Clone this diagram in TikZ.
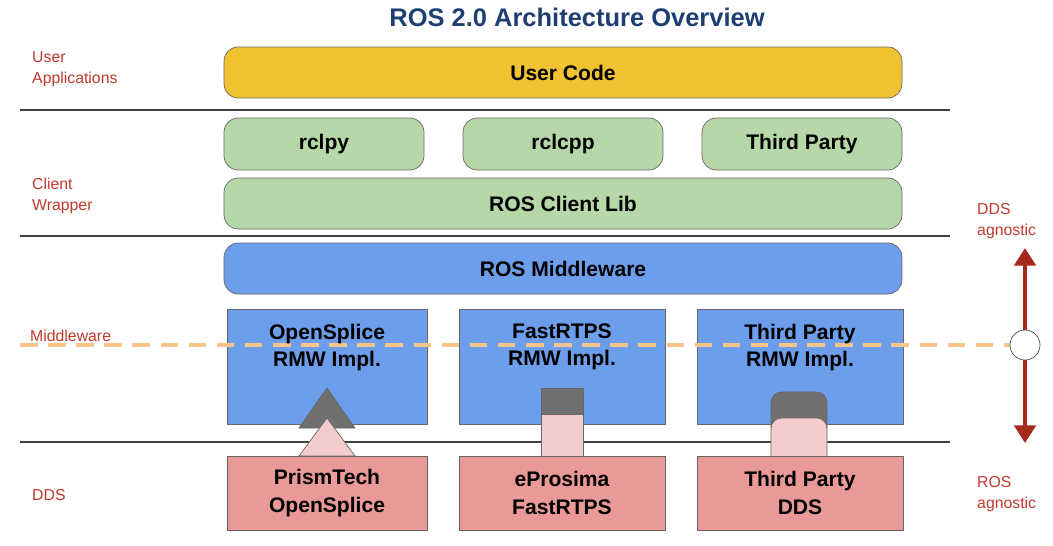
\documentclass[tikz,border=0pt]{standalone}
\usepackage{fontspec}
\setmainfont{Liberation Sans}
\usetikzlibrary{arrows.meta,positioning,calc}
\definecolor{titleblue}{HTML}{1F3F73}
\definecolor{labred}{HTML}{C0392B}
\definecolor{usery}{HTML}{F1C232}
\definecolor{clientg}{HTML}{B6D7A8}
\definecolor{mwblue}{HTML}{6D9EEB}
\definecolor{ddsred}{HTML}{EA9999}
\definecolor{plugpink}{HTML}{F4CCCC}
\definecolor{pluggray}{HTML}{707070}
\definecolor{dashor}{HTML}{F9C48A}
\definecolor{arrred}{HTML}{A52A1E}
\tikzset{
  layer/.style={draw=black!60, rounded corners=8pt, font=\bfseries\fontsize{12}{15.5}\selectfont, inner sep=0pt},
  block/.style={draw=black!60, font=\bfseries\fontsize{12}{15.5}\selectfont, align=center, inner sep=0pt},
  side/.style={text=labred, font=\fontsize{9}{12}\selectfont, align=left, anchor=west},
  sep/.style={line width=1.6pt, black!75}
}
\begin{document}
\begin{tikzpicture}[x=0.02cm, y=-0.02cm]
  \useasboundingbox (0,0) rectangle (1053,545);
  % Title
  \node[text=titleblue, font=\bfseries\fontsize{14.5}{16}\selectfont] (title) at (577,17) {ROS 2.0 Architecture Overview};

  % Side labels
  \node[side] (lapp) at (26,69) {User\\Applications};
  \node[side] (lcw) at (26,196) {Client\\Wrapper};
  \node[side] (lmw) at (24,336) {Middleware};
  \node[side] (ldds) at (26,495) {DDS};
  \node[side] (lda) at (971,221) {DDS\\agnostic};
  \node[side] (lra) at (971,494) {ROS\\agnostic};

  % Separators
  \draw[sep] (20,110) -- (950,110);
  \draw[sep] (20,236) -- (950,236);
  \draw[sep] (20,442) -- (950,442);

  % Layers
  \node[layer, fill=usery, minimum width=13.56cm, minimum height=1.02cm] (user) at (563,72.5) {User Code};
  \node[layer, fill=clientg, minimum width=4cm, minimum height=1.04cm] (rclpy) at (324,144) {rclpy};
  \node[layer, fill=clientg, minimum width=4cm, minimum height=1.04cm] (rclcpp) at (563,144) {rclcpp};
  \node[layer, fill=clientg, minimum width=4cm, minimum height=1.04cm] (tp) at (802,144) {Third Party};
  \node[layer, fill=clientg, minimum width=13.56cm, minimum height=1.02cm] (rcl) at (563,203.5) {ROS Client Lib};
  \node[layer, fill=mwblue, minimum width=13.56cm, minimum height=1.02cm] (rmw) at (563,268.5) {ROS Middleware};

  % RMW implementations
  \node[block, fill=mwblue, minimum width=4cm, minimum height=2.3cm, anchor=north] (rmwos) at (327,309) {};
  \node[block, fill=mwblue, minimum width=4.12cm, minimum height=2.3cm, anchor=north] (rmwfr) at (562,309) {};
  \node[block, fill=mwblue, minimum width=4.12cm, minimum height=2.3cm, anchor=north] (rmwtp) at (800,309) {};

  % Plugs
  \fill[pluggray, draw=black!60] (299,428) -- (327,388) -- (355,428) -- cycle;
  \fill[plugpink, draw=black!60] (299,456) -- (327,418) -- (355,456) -- cycle;
  \fill[pluggray, draw=black!60] (541,414) rectangle (583,388);
  \fill[plugpink, draw=black!60] (541,456) rectangle (583,414);
  \fill[pluggray, draw=black!60, rounded corners=6pt] (771,428) -- (771,392) -- (827,392) -- (827,428);
  \fill[plugpink, draw=black!60, rounded corners=6pt] (771,456) -- (771,418) -- (827,418) -- (827,456);

  % Dashed divider and labels over it
  \draw[dashor, line width=2.5pt, dash pattern=on 10pt off 6pt] (20,345) -- (1010,345);
  \node[font=\bfseries\fontsize{12}{15.5}\selectfont, align=center, below=5pt of rmwos.north] (tos) {OpenSplice\\RMW Impl.};
  \node[font=\bfseries\fontsize{12}{15.5}\selectfont, align=center, below=5pt of rmwfr.north] (tfr) {FastRTPS\\RMW Impl.};
  \node[font=\bfseries\fontsize{12}{15.5}\selectfont, align=center, below=5pt of rmwtp.north] (ttp) {Third Party\\RMW Impl.};

  % DDS implementations
  \node[block, fill=ddsred, minimum width=4cm, minimum height=1.48cm] (ddsos) at (327,493) {PrismTech\\OpenSplice};
  \node[block, fill=ddsred, minimum width=4.12cm, minimum height=1.48cm] (ddsfr) at (562,493) {eProsima\\FastRTPS};
  \node[block, fill=ddsred, minimum width=4.12cm, minimum height=1.48cm] (ddstp) at (800,493) {Third Party\\DDS};

  % Agnostic arrow
  \node[circle, draw=black!70, fill=white, minimum size=0.6cm, inner sep=0pt] (mid) at (1025,345) {};
  \coordinate (atop) at (1025,248);
  \coordinate (abot) at (1025,443);
  \draw[arrred, line width=2.5pt, -{Triangle[length=10pt,width=12pt]}] (mid) -- (atop);
  \draw[arrred, line width=2.5pt, -{Triangle[length=10pt,width=12pt]}] (mid) -- (abot);
\end{tikzpicture}
\end{document}
